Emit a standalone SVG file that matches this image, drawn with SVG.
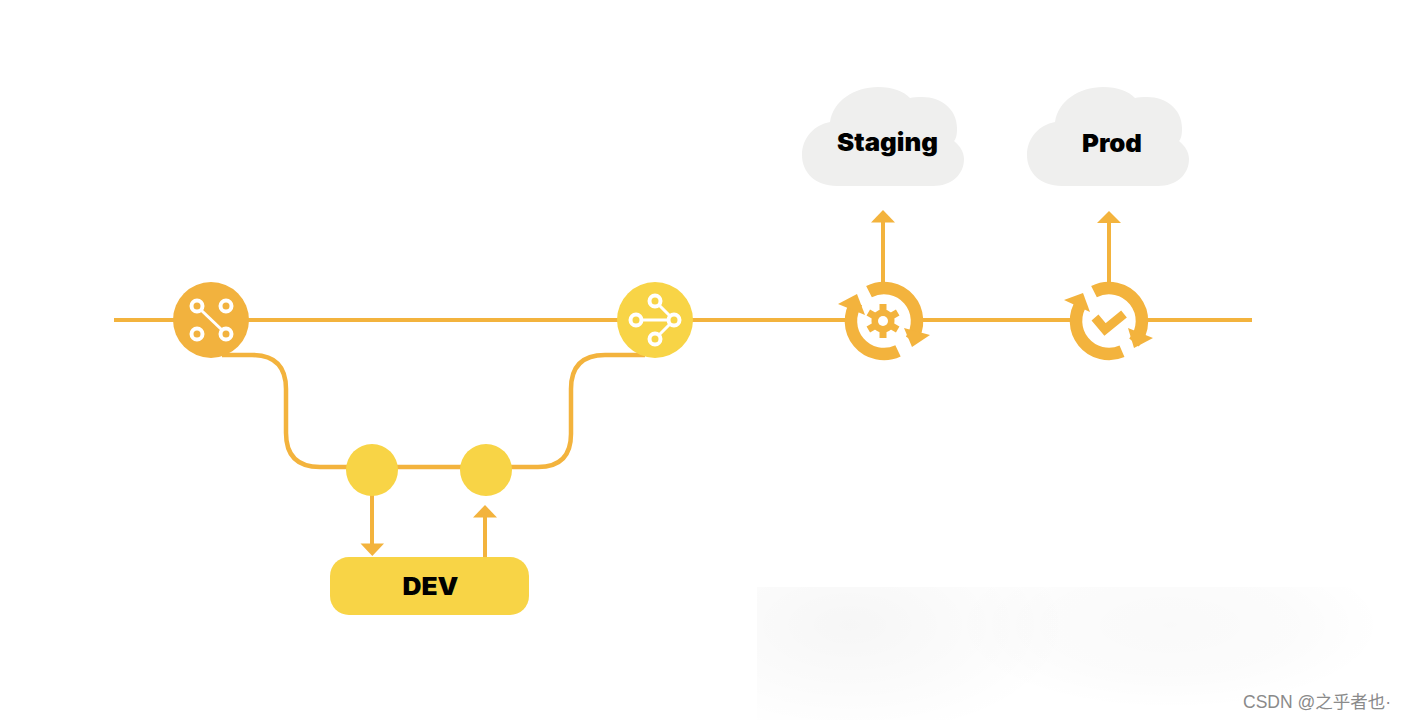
<svg xmlns="http://www.w3.org/2000/svg" width="1408" height="720" viewBox="0 0 1408 720">
  <style>
    .ln{fill:none;stroke:#F3B33D;stroke-width:4}
    .br{fill:none;stroke:#F3B33D;stroke-width:4.500}
    .ring{fill:none;stroke:#F3B33D;stroke-width:12.500}
    .or{fill:#F3B33D}
    .ye{fill:#F8D446}
    .cl{fill:#EFEFEE}
    .ic circle{fill:none;stroke:#fff;stroke-width:4}
    .ic path{fill:none;stroke:#fff;stroke-width:3}
    .lb{font-family:"Inter","Noto Sans","Liberation Sans",sans-serif;font-weight:900;fill:#000;text-anchor:middle}
  </style>
  <defs>
    <radialGradient id="s1"><stop offset="0" stop-color="#000" stop-opacity="0.035"/><stop offset="0.5" stop-color="#000" stop-opacity="0.018"/><stop offset="1" stop-color="#000" stop-opacity="0"/></radialGradient>
    <radialGradient id="s2"><stop offset="0" stop-color="#000" stop-opacity="0.022"/><stop offset="0.6" stop-color="#000" stop-opacity="0.014"/><stop offset="1" stop-color="#000" stop-opacity="0"/></radialGradient>
    <clipPath id="sc"><rect x="757" y="587" width="651" height="133"/></clipPath>
    <path id="cloud" d="M837 186C815 186 802 172 802 155C802 138 814 125 830 122C833 101 854 87 878 87C893 87 903 91 910 98C913 97 917 97 922 97C942 97 957 110 957 128C957 135 956 139 954 141C960 146 964 152 964 159C964 175 951 186 933 186Z"/>
  </defs>
  <rect width="1408" height="720" fill="#fff"/>
  <g id="smudge" clip-path="url(#sc)">
    <ellipse cx="850" cy="625" rx="220" ry="115" fill="url(#s1)"/>
    <ellipse cx="1170" cy="625" rx="215" ry="85" fill="url(#s2)"/>
  </g>
  <g id="connectors">
    <path class="ln" d="M114 320H846M922 320H1071M1147 320H1252"/>
    <path class="br" d="M222 355H252Q286 355 286 389V433Q286 467 320 467H538Q571 467 571 434V389Q571 355 605 355H645"/>
    <path class="ln" d="M372 495V545"/>
    <polygon class="or" points="360.500,543.500 384,543.500 372.300,556"/>
    <path class="ln" d="M485 558V516"/>
    <polygon class="or" points="473,517.500 497,517.500 485,505"/>
    <path class="ln" d="M883 283V221"/>
    <polygon class="or" points="871,222.500 895,222.500 883,210"/>
    <path class="ln" d="M1109 283V222"/>
    <polygon class="or" points="1097,223 1121,223 1109,211"/>
  </g>
  <g id="node-branch">
    <circle cx="211" cy="320" r="38" fill="#F2B23E"/>
    <g class="ic"><circle cx="197" cy="306" r="5.500"/><circle cx="226" cy="306" r="5.500"/><circle cx="197" cy="334" r="5.500"/><circle cx="226" cy="334" r="5.500"/><path d="M201 310L222 330"/></g>
  </g>
  <g id="node-merge">
    <circle class="ye" cx="655" cy="320" r="38"/>
    <g class="ic"><circle cx="655" cy="301" r="5.500"/><circle cx="636" cy="320" r="5.500"/><circle cx="674" cy="320" r="5.500"/><circle cx="655" cy="339" r="5.500"/><path d="M641.500 320H668.500M659 305L670 316M659 335L670 324"/></g>
  </g>
  <g id="node-commit-1"><circle class="ye" cx="372" cy="470" r="26"/></g>
  <g id="node-commit-2"><circle class="ye" cx="486" cy="470" r="26"/></g>
  <g id="node-dev">
    <rect class="ye" x="330" y="557" width="199" height="58" rx="19"/>
    <text class="lb" x="430.500" y="595" font-size="24" textLength="56" lengthAdjust="spacingAndGlyphs">DEV</text>
  </g>
  <g id="node-build">
    <path class="ring" d="M869 291.600A33 33 0 0 1 911 340"/>
    <polygon class="or" points="930,335 912,347 904,328"/>
    <path class="ring" d="M898 350.900A33 33 0 0 1 857 302"/>
    <polygon class="or" points="838,304 857,294 865,315"/>
    <circle cx="883" cy="321" r="11.500" class="or"/>
    <path d="M883 304V338M868.300 312.500L897.700 329.500M868.300 329.500L897.700 312.500" fill="none" stroke="#F3B33D" stroke-width="7"/>
    <circle cx="883" cy="321" r="5" fill="#fff"/>
  </g>
  <g id="node-verify">
    <path class="ring" d="M1094 291.600A33 33 0 0 1 1134 342.500"/>
    <polygon class="or" points="1153,338 1134,348 1128,328"/>
    <path class="ring" d="M1122 351.300A33 33 0 0 1 1082 302"/>
    <polygon class="or" points="1064,300 1083,293 1090,312"/>
    <path d="M1095 317.500L1105 329.500L1124 314" fill="none" stroke="#F3B33D" stroke-width="9"/>
  </g>
  <g id="node-staging">
    <use href="#cloud" class="cl"/>
    <text class="lb" x="887.500" y="151" font-size="24.500" textLength="101" lengthAdjust="spacingAndGlyphs">Staging</text>
  </g>
  <g id="node-prod">
    <use href="#cloud" class="cl" x="225"/>
    <text class="lb" x="1112" y="152" font-size="24.500" textLength="60" lengthAdjust="spacingAndGlyphs">Prod</text>
  </g>
  <text id="watermark" x="1243" y="708" font-size="17.500" fill="#8a8a8a" font-family="'Liberation Sans','Noto Sans CJK SC',sans-serif">CSDN @之乎者也·</text>
</svg>
